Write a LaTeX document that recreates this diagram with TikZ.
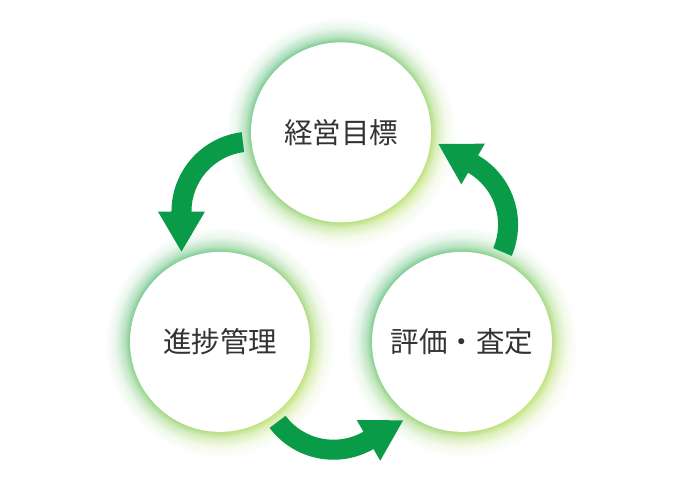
\documentclass[tikz,border=0pt]{standalone}
\usepackage{fontspec}
\newfontfamily\jp{Noto Sans CJK JP}
\usetikzlibrary{fadings,calc}
\definecolor{arrowgreen}{RGB}{10,155,72}
\definecolor{glowG}{RGB}{108,198,145}
\definecolor{glowY}{RGB}{208,232,130}
\definecolor{txtgray}{RGB}{51,51,51}
\pgfdeclareradialshading{glowGshade}{\pgfpointorigin}{color(0bp)=(glowG); color(19.6bp)=(glowG); color(20.8bp)=(glowG!55!white); color(22.8bp)=(glowG!16!white); color(25bp)=(white); color(50bp)=(white)}
\pgfdeclareradialshading{glowYshade}{\pgfpointorigin}{color(0bp)=(glowY); color(19.6bp)=(glowY); color(20.8bp)=(glowY!55!white); color(22.8bp)=(glowY!16!white); color(25bp)=(white); color(50bp)=(white)}
\tikzfading[name=diagfade, top color=transparent!100, bottom color=transparent!0]
\tikzset{
  circ/.style={circle, fill=white, minimum size=180pt, inner sep=0pt,
    font=\jp\fontsize{28.5}{32}\selectfont, text=txtgray},
}
\begin{document}
\begin{tikzpicture}[x=1pt,y=1pt]
\useasboundingbox[fill=white] (0,0) rectangle (680,492);
\coordinate (C) at (341,220);
\path (C) ++(90:139.7) coordinate (pT);
\path (C) ++(210:139.7) coordinate (pL);
\path (C) ++(330:139.7) coordinate (pR);
% glows
\foreach \p in {pT,pL,pR}{
  \shade[shading=glowGshade] (\p) circle (115);
  \shade[shading=glowYshade, path fading=diagfade, fading angle=45] (\p) circle (115);
}
% circles
\node[circ] (top) at (pT) {経営目標};
\node[circ] (left) at (pL) {進捗管理};
\node[circ] (right) at (pR) {評価・査定};
% arrows
\foreach \r in {0,120,240}{
  \pgfmathsetmacro{\a}{146+\r}
  \pgfmathsetmacro{\s}{97+\r}
  \pgfmathsetmacro{\e}{180+\r}
  \pgfmathsetmacro{\t}{270+\r}
  \coordinate (A) at ($(C)+(\a:108)$);
  \fill[arrowgreen] ($(A)+(\s:80)$) arc[start angle=\s, end angle=\e, radius=80]
    -- ($(A)+(\e:93.5)$) -- ($(A)+(\e:70)+(\t:40)$) -- ($(A)+(\e:46.5)$)
    -- ($(A)+(\e:60)$) arc[start angle=\e, end angle=\s, radius=60] -- cycle;
}
\end{tikzpicture}
\end{document}
